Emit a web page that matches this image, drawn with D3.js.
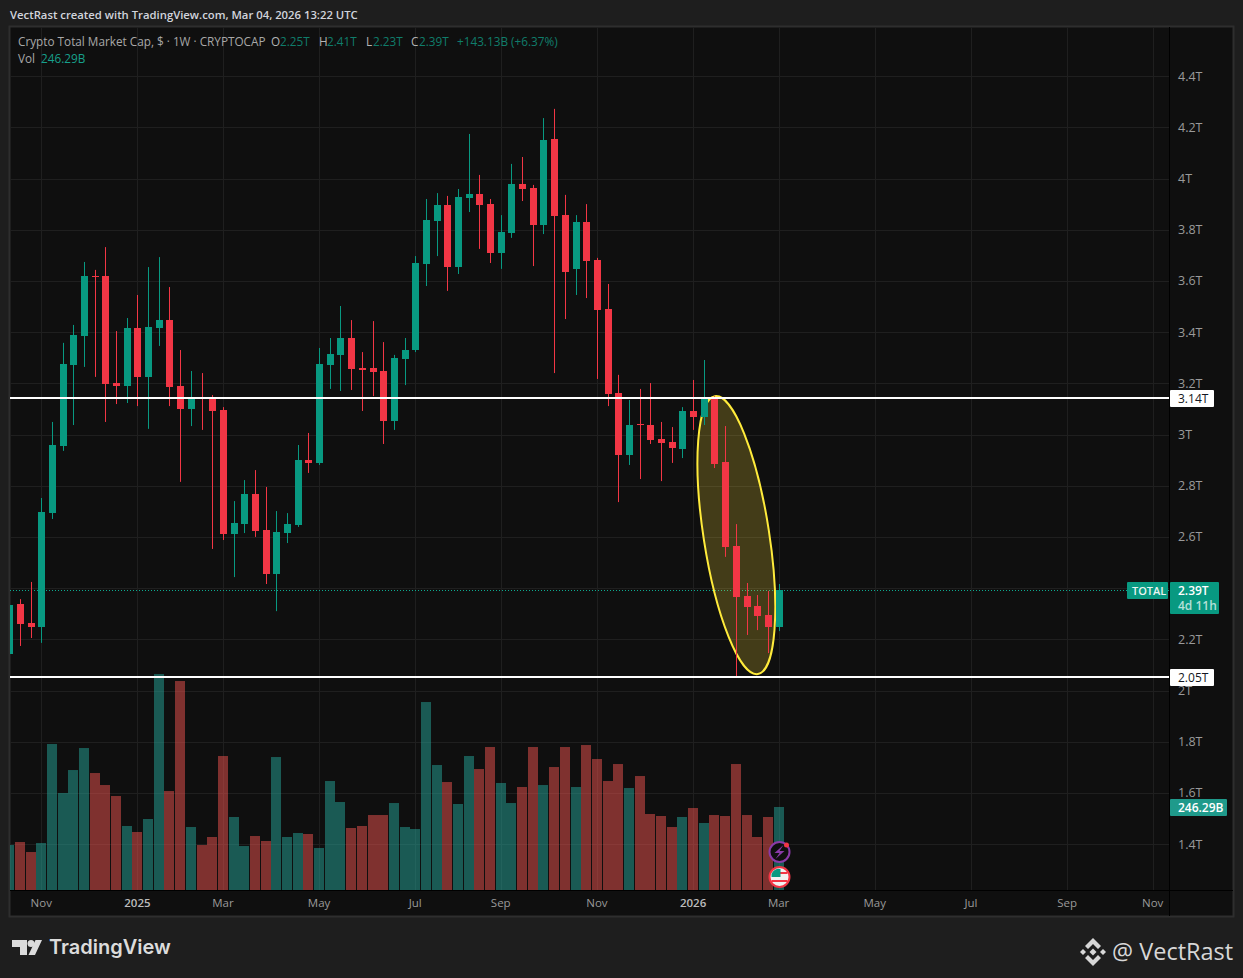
<!DOCTYPE html>
<html>
<head>
<meta charset="utf-8">
<title>Crypto Total Market Cap</title>
<script src="https://cdn.jsdelivr.net/npm/d3@7/dist/d3.min.js"></script>
<style>
  html, body { margin: 0; padding: 0; background: #1e1e1e; }
  svg { display: block; font-family: "Open Sans", sans-serif; }
  .axis path, .axis line { display: none; }
</style>
</head>
<body>
<div id="chart"></div>
<script>
// weekly candles, values in trillions
var opens = [2.144,2.338,2.264,2.248,2.693,2.955,3.272,3.385,3.619,3.619,3.201,3.190,3.416,3.225,3.416,3.447,3.190,3.100,3.143,3.139,3.096,2.611,2.650,2.768,2.627,2.455,2.615,2.647,2.900,2.889,3.272,3.311,3.377,3.260,3.260,3.248,3.053,3.295,3.330,3.666,3.834,3.897,3.654,3.924,3.939,3.900,3.709,3.787,3.979,3.963,3.818,4.154,3.857,3.647,3.830,3.682,3.490,3.162,2.920,3.041,3.037,2.982,2.971,2.943,3.092,3.068,3.143,2.893,2.564,2.369,2.330,2.295,2.248];
var highs = [2.334,2.357,2.424,2.752,3.049,3.358,3.428,3.674,3.643,3.732,3.404,3.455,3.545,3.654,3.693,3.576,3.330,3.248,3.240,3.154,3.107,2.740,2.822,2.861,2.795,2.701,2.693,2.959,3.006,3.338,3.377,3.502,3.447,3.322,3.443,3.361,3.311,3.377,3.697,3.920,3.943,3.932,3.959,4.174,4.014,3.920,3.857,4.057,4.084,3.975,4.236,4.272,3.936,3.857,3.900,3.690,3.588,3.233,3.135,3.178,3.201,3.049,3.029,3.107,3.213,3.291,3.150,3.033,2.650,2.420,2.373,2.389,2.416];
var lows = [2.144,2.174,2.205,2.186,2.670,2.936,3.037,3.264,3.225,3.049,3.119,3.123,3.111,3.022,3.346,3.111,2.815,3.033,3.018,2.553,2.588,2.443,2.615,2.600,2.416,2.310,2.576,2.639,2.850,2.881,3.178,3.170,3.174,3.092,3.150,2.963,3.018,3.193,3.322,3.580,3.697,3.561,3.627,3.869,3.725,3.670,3.647,3.768,3.912,3.658,3.783,3.240,3.451,3.545,3.533,3.217,3.111,2.736,2.881,2.826,2.963,2.818,2.889,2.908,3.018,3.037,2.869,2.522,2.053,2.217,2.236,2.146,2.232];
var closes = [2.334,2.260,2.248,2.697,2.959,3.275,3.389,3.619,3.615,3.197,3.190,3.416,3.225,3.420,3.447,3.186,3.100,3.139,3.139,3.092,2.611,2.654,2.768,2.623,2.455,2.619,2.650,2.900,2.889,3.275,3.315,3.377,3.256,3.254,3.244,3.053,3.299,3.330,3.670,3.838,3.897,3.654,3.928,3.939,3.897,3.709,3.791,3.979,3.959,3.818,4.150,3.854,3.635,3.830,3.678,3.486,3.158,2.920,3.037,3.037,2.979,2.967,2.947,3.092,3.068,3.143,2.885,2.560,2.365,2.326,2.291,2.248,2.393];
// billions
var volumes = [133.5,142.4,112.7,139.4,433.2,287.8,356,421.3,347.1,311.5,278.9,189.9,172.1,210.7,640.9,293.7,620.1,186.9,133.5,157.3,397.6,216.6,130.5,160.2,145.4,394.6,157.3,169.1,166.2,124.6,323.4,261.1,184,189.9,222.5,222.5,258.1,186.9,181,557.8,370.9,320.4,255.2,397.6,359,424.3,317.5,258.1,305.6,424.3,311.5,364.9,424.3,305.6,430.2,388.7,323.4,373.8,302.6,338.2,225.5,219.6,186.9,216.6,243.3,198.8,222.5,219.6,373.8,222.5,157.3,216.6,246.29];

var priceTicks = [1.4,1.6,1.8,2,2.2,2.4,2.6,2.8,3,3.2,3.4,3.6,3.8,4,4.2,4.4];
// 2.4 sits behind the last price tag, so it gets no label
var priceLabels = [1.4,1.6,1.8,2,2.2,2.6,2.8,3,3.2,3.4,3.6,3.8,4,4.2,4.4];
var timeTickBars = [3,12,20,29,38,46,55,64,72,81,90,99,107];
var timeTickLabels = ['Nov','2025','Mar','May','Jul','Sep','Nov','2026','Mar','May','Jul','Sep','Nov'];
var levels = [3.14, 2.05];
var lastPrice = 2.39;
var lastVolume = 246.29;

var GREEN = '#089981', RED = '#f23645';
var width = 1243, height = 978;
var paneLeft = 10, paneRight = 1169, paneTop = 27, paneBottom = 890, frameRight = 1233, frameBottom = 916;

var x = d3.scaleLinear().domain([0, 72]).range([9.65, 779.1]);
var y = d3.scaleLinear().domain([1.4, 4.4]).range([844.1, 76.1]);
var yVol = d3.scaleLinear().domain([0, lastVolume]).range([paneBottom, 807]);

var svg = d3.select('#chart').append('svg').attr('width', width).attr('height', height);

svg.append('rect').attr('width', width).attr('height', height).attr('fill', '#1e1e1e');
svg.append('rect').attr('x', paneLeft - 0.5).attr('y', paneTop - 0.5)
    .attr('width', frameRight - paneLeft + 1).attr('height', frameBottom - paneTop + 1)
    .attr('fill', '#0f0f0f').attr('stroke', '#2e2e2e').attr('stroke-width', 2);

svg.append('clipPath').attr('id', 'pane').append('rect')
    .attr('x', paneLeft).attr('y', paneTop)
    .attr('width', paneRight - paneLeft).attr('height', paneBottom - paneTop);

var pane = svg.append('g').attr('clip-path', 'url(#pane)');

// grid
pane.selectAll('line.h').data(priceTicks).enter().append('line')
    .attr('x1', paneLeft).attr('x2', paneRight)
    .attr('y1', function(d) { return Math.round(y(d)) + 0.5; })
    .attr('y2', function(d) { return Math.round(y(d)) + 0.5; })
    .attr('stroke', '#1f1f1f');
pane.selectAll('line.v').data(timeTickBars).enter().append('line')
    .attr('y1', paneTop).attr('y2', paneBottom)
    .attr('x1', function(d) { return Math.floor(x(d)) + 0.5; })
    .attr('x2', function(d) { return Math.floor(x(d)) + 0.5; })
    .attr('stroke', '#1f1f1f');

// volume
pane.selectAll('rect.vol').data(volumes).enter().append('rect')
    .attr('x', function(d, i) { return Math.floor(x(i)) - 5; })
    .attr('width', 10)
    .attr('y', function(d) { return yVol(d); })
    .attr('height', function(d) { return paneBottom - yVol(d); })
    .attr('fill', function(d, i) { return closes[i] >= opens[i] ? 'rgba(38,166,154,.5)' : 'rgba(239,83,80,.5)'; });

// last price line
pane.append('line')
    .attr('x1', paneLeft).attr('x2', paneRight)
    .attr('y1', Math.floor(y(lastPrice)) + 0.5).attr('y2', Math.floor(y(lastPrice)) + 0.5)
    .attr('stroke', '#0cab90').attr('stroke-dasharray', '1 2');

// ellipse around the drop, goes under the candles
pane.append('ellipse')
    .attr('transform', 'translate(' + x(68) + ',' + y(2.607) + ') rotate(-8.8)')
    .attr('rx', 32.8).attr('ry', 140.6)
    .attr('fill', 'rgba(255,225,59,.22)').attr('stroke', '#ffeb3b').attr('stroke-width', 2);

// candles
var bars = pane.selectAll('g.bar').data(opens).enter().append('g');
bars.append('rect')
    .attr('x', function(d, i) { return Math.floor(x(i)); })
    .attr('width', 1)
    .attr('y', function(d, i) { return y(highs[i]); })
    .attr('height', function(d, i) { return y(lows[i]) - y(highs[i]); })
    .attr('fill', function(d, i) { return closes[i] >= d ? GREEN : RED; });
bars.append('rect')
    .attr('x', function(d, i) { return Math.floor(x(i)) - 3; })
    .attr('width', 7)
    .attr('y', function(d, i) { return Math.round(y(Math.max(d, closes[i]))); })
    .attr('height', function(d, i) { return Math.max(1, Math.round(Math.abs(y(d) - y(closes[i])))); })
    .attr('fill', function(d, i) { return closes[i] >= d ? GREEN : RED; });

// horizontal levels
pane.selectAll('rect.level').data(levels).enter().append('rect')
    .attr('x', paneLeft).attr('width', paneRight - paneLeft)
    .attr('y', function(d) { return Math.round(y(d)) - 2; })
    .attr('height', 2).attr('fill', '#ffffff');

// axis separators
svg.append('line').attr('x1', paneRight + 0.5).attr('x2', paneRight + 0.5)
    .attr('y1', paneTop).attr('y2', frameBottom).attr('stroke', '#000');
svg.append('line').attr('x1', paneLeft).attr('x2', frameRight)
    .attr('y1', paneBottom + 0.5).attr('y2', paneBottom + 0.5).attr('stroke', '#000');

// axes
var yAxis = d3.axisRight(y).tickValues(priceLabels).tickSize(0).tickPadding(9)
    .tickFormat(function(d) { return d + 'T'; });
var gy = svg.append('g').attr('class', 'axis').attr('transform', 'translate(' + paneRight + ',0)').call(yAxis);
gy.selectAll('text').attr('fill', '#9a9a9a').style('font-size', '12.5px').style('font-family', '"Open Sans", sans-serif');

var xAxis = d3.axisBottom(x).tickValues(timeTickBars).tickSize(0).tickPadding(9)
    .tickFormat(function(d, i) { return timeTickLabels[i]; });
var gx = svg.append('g').attr('class', 'axis').attr('transform', 'translate(-1,' + paneBottom + ')').call(xAxis);
gx.selectAll('text').attr('fill', function(d, i) { return /^20/.test(timeTickLabels[i]) ? '#bcbcbc' : '#9a9a9a'; })
    .style('font-size', '11.5px').style('font-family', '"Open Sans", sans-serif')
    .style('font-weight', function(d, i) { return /^20/.test(timeTickLabels[i]) ? 600 : 400; });

// price labels
function tag(px, py, w, h, bg, lines) {
  var g = svg.append('g');
  g.append('rect').attr('x', px).attr('y', py).attr('width', w).attr('height', h).attr('rx', 1).attr('fill', bg);
  lines.forEach(function(l) {
    g.append('text').attr('x', px + l.dx).attr('y', py + l.dy).attr('fill', l.color)
      .style('font-size', l.size || '12px').style('font-weight', l.weight || 600).text(l.text);
  });
}
levels.forEach(function(p) {
  tag(paneRight + 1, Math.round(y(p)) - 9, 44, 17, '#ffffff', [{dx: 8, dy: 13, color: '#131722', text: p + 'T', weight: 500}]);
});
tag(1127, Math.round(y(lastPrice)) - 9, 41, 17, GREEN, [{dx: 5, dy: 13, color: '#e8f5f2', text: 'TOTAL', size: '11px'}]);
tag(paneRight + 1, Math.round(y(lastPrice)) - 9, 49, 32, GREEN, [
  {dx: 8, dy: 13, color: '#ffffff', text: lastPrice + 'T'},
  {dx: 8, dy: 28, color: '#b5e0d8', text: '4d 11h'}
]);
tag(paneRight + 1, 799, 57, 17, '#1f9a8b', [{dx: 8, dy: 13, color: '#ffffff', text: lastVolume + 'B'}]);

// header + legend
svg.append('text').attr('x', 10).attr('y', 19).attr('fill', '#d1d4dc')
    .style('font-size', '11.3px').style('font-weight', 600)
    .text('VectRast created with TradingView.com, Mar 04, 2026 13:22 UTC');

var legendText = [
  {x: 18, y: 46, color: '#a8a8a8', text: 'Crypto Total Market Cap, $ · 1W · CRYPTOCAP'},
  {x: 271, y: 46, color: '#b4b4b4', text: 'O'},
  {x: 280, y: 46, color: '#0f7d6b', text: '2.25T'},
  {x: 319, y: 46, color: '#b4b4b4', text: 'H'},
  {x: 327, y: 46, color: '#0f7d6b', text: '2.41T'},
  {x: 366, y: 46, color: '#b4b4b4', text: 'L'},
  {x: 373, y: 46, color: '#0f7d6b', text: '2.23T'},
  {x: 411, y: 46, color: '#b4b4b4', text: 'C'},
  {x: 419, y: 46, color: '#0f7d6b', text: '2.39T'},
  {x: 457, y: 46, color: '#0f7d6b', text: '+143.13B (+6.37%)'},
  {x: 18, y: 63, color: '#a8a8a8', text: 'Vol'},
  {x: 41, y: 63, color: '#17a08c', text: '246.29B'}
];
svg.selectAll('text.legend').data(legendText).enter().append('text')
    .attr('x', function(d) { return d.x; }).attr('y', function(d) { return d.y; })
    .attr('fill', function(d) { return d.color; })
    .style('font-size', '11.75px')
    .text(function(d) { return d.text; });

// badges on the last bar
var bx = Math.floor(x(72)) + 0.5;
svg.append('circle').attr('cx', bx).attr('cy', 852).attr('r', 10).attr('fill', '#0f0f0f').attr('stroke', '#8a3aa8').attr('stroke-width', 2);
svg.append('path').attr('d', 'M' + (bx + 4) + ' 845L' + (bx - 5) + ' 853H' + bx + 'L' + (bx - 4) + ' 859L' + (bx + 5) + ' 851H' + bx + 'Z').attr('fill', '#8a3aa8');
svg.append('circle').attr('cx', bx + 7).attr('cy', 845).attr('r', 2.5).attr('fill', '#f23645');
svg.append('circle').attr('cx', bx).attr('cy', 877).attr('r', 10).attr('fill', '#f2f2f2').attr('stroke', '#f23645').attr('stroke-width', 2);
svg.append('rect').attr('x', bx - 1).attr('y', 872).attr('width', 9).attr('height', 2).attr('fill', '#f23645');
svg.append('rect').attr('x', bx - 8).attr('y', 880).attr('width', 16).attr('height', 2).attr('fill', '#f23645');
svg.append('path').attr('d', 'M' + (bx - 8) + ' 877V874A8 8 0 0 1 ' + (bx + 1) + ' 869V877Z').attr('fill', '#089981');

// footer
svg.append('path').attr('d', 'M12 940H27V955H20V947H12Z').attr('fill', '#dcdcdc');
svg.append('circle').attr('cx', 31).attr('cy', 943.5).attr('r', 3.5).attr('fill', '#dcdcdc');
svg.append('path').attr('d', 'M35.5 940H42L35 955H28.5Z').attr('fill', '#dcdcdc');
svg.append('text').attr('x', 49).attr('y', 954).attr('fill', '#dcdcdc')
    .style('font-family', 'Inter, sans-serif').style('font-size', '20px').style('font-weight', 600)
    .text('TradingView');

var cx = 1093, cy = 952;
var diamonds = [[0, 0, 3.5], [-10, 0, 3], [10, 0, 3]];
svg.selectAll('path.dia').data(diamonds).enter().append('path')
    .attr('d', function(d) {
      return 'M' + (cx + d[0] - d[2]) + ' ' + (cy + d[1]) + 'L' + (cx + d[0]) + ' ' + (cy + d[1] - d[2]) +
        'L' + (cx + d[0] + d[2]) + ' ' + (cy + d[1]) + 'L' + (cx + d[0]) + ' ' + (cy + d[1] + d[2]) + 'Z';
    })
    .attr('fill', '#d7d7d7');
svg.append('path').attr('d', 'M' + cx + ' ' + (cy - 14) + 'L' + (cx + 8) + ' ' + (cy - 6) + 'L' + (cx + 5) + ' ' + (cy - 3) + 'L' + cx + ' ' + (cy - 8) + 'L' + (cx - 5) + ' ' + (cy - 3) + 'L' + (cx - 8) + ' ' + (cy - 6) + 'Z').attr('fill', '#d7d7d7');
svg.append('path').attr('d', 'M' + cx + ' ' + (cy + 14) + 'L' + (cx + 8) + ' ' + (cy + 6) + 'L' + (cx + 5) + ' ' + (cy + 3) + 'L' + cx + ' ' + (cy + 8) + 'L' + (cx - 5) + ' ' + (cy + 3) + 'L' + (cx - 8) + ' ' + (cy + 6) + 'Z').attr('fill', '#d7d7d7');
svg.append('text').attr('x', 1112).attr('y', 960).attr('fill', '#d7d7d7')
    .style('font-family', '"Open Sans", sans-serif').style('font-size', '23.5px')
    .text('@ VectRast');
</script>
</body>
</html>
